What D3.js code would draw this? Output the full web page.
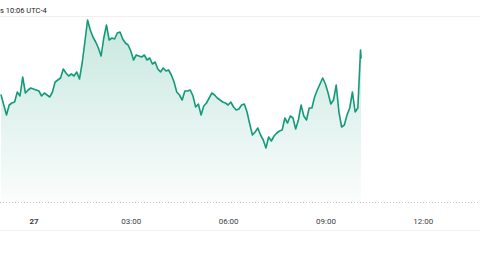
<!DOCTYPE html>
<html>
<head>
<meta charset="utf-8">
<script src="https://cdn.jsdelivr.net/npm/d3@7"></script>
<style>
  html, body { margin: 0; padding: 0; background: #fff; }
  svg { display: block; font-family: Roboto, "Open Sans", sans-serif; }
</style>
</head>
<body>
<svg id="chart" width="480" height="270"></svg>
<script>
// price every 5 minutes from 23:00 (previous day) to 10:05
const startTime = "2023-10-26 23:00";
const stepMinutes = 5;
const prices = [
  42.14, 41.94, 41.74, 41.94, 41.98, 42.00, 42.20, 42.12, 42.50, 42.18,
  42.24, 42.28, 42.26, 42.24, 42.22, 42.12, 42.18, 42.14, 42.10, 42.20,
  42.40, 42.44, 42.48, 42.66, 42.58, 42.52, 42.56, 42.52, 42.60, 42.46,
  42.78, 43.20, 43.64, 43.44, 43.30, 43.20, 43.08, 42.92, 43.28, 43.54,
  43.24, 43.28, 43.26, 43.38, 43.40, 43.26, 43.18, 43.14, 43.02, 42.84,
  42.94, 42.92, 42.90, 42.94, 42.84, 42.88, 42.76, 42.80, 42.66, 42.60,
  42.68, 42.62, 42.64, 42.54, 42.40, 42.20, 42.14, 42.04, 42.22, 42.22,
  42.24, 42.12, 41.90, 41.96, 41.74, 41.92, 41.98, 42.08, 42.18, 42.14,
  42.08, 42.04, 42.00, 41.98, 41.94, 42.00, 41.90, 41.84, 41.86, 41.94,
  41.96, 41.80, 41.56, 41.34, 41.40, 41.48, 41.34, 41.24, 41.08, 41.30,
  41.22, 41.32, 41.38, 41.42, 41.44, 41.68, 41.58, 41.72, 41.68, 41.46,
  41.64, 41.94, 41.72, 41.64, 41.88, 41.88, 42.10, 42.24, 42.36, 42.48,
  42.36, 42.18, 41.96, 42.04, 42.34, 41.80, 41.50, 41.54, 41.74, 41.88,
  42.20, 41.80, 41.88, 43.04
];
const lastTime = "2023-10-27 10:06";
const lastPrice = 42.88;

const viewStart = "2023-10-26 22:58";
const viewEnd = "2023-10-27 13:46";
const priceRange = [40, 43.7];

const tickTimes = ["2023-10-27 00:00", "2023-10-27 03:00", "2023-10-27 06:00", "2023-10-27 09:00", "2023-10-27 12:00"];
const tickLabels = ["27", "03:00", "06:00", "09:00", "12:00"];
const stampText = "s 10:06 UTC-4";

const parse = d3.timeParse("%Y-%m-%d %H:%M");
const t0 = parse(startTime);
var data = prices.map((p, i) => ({ t: d3.timeMinute.offset(t0, i * stepMinutes), v: p }));
data.push({ t: parse(lastTime), v: lastPrice });

var svg = d3.select("#chart");
var width = 480, plotTop = 17, plotBottom = 202;

var x = d3.scaleTime()
  .domain([parse(viewStart), parse(viewEnd)])
  .range([0, width]);

var y = d3.scaleLinear()
  .domain(priceRange)
  .range([plotBottom, plotTop]);

// header
svg.append("text")
  .attr("x", 0)
  .attr("y", 12.5)
  .style("font-size", "7.5px")
  .style("fill", "#202124")
  .text(stampText);

svg.append("line")
  .attr("x1", 0).attr("x2", width)
  .attr("y1", plotTop - 0.5).attr("y2", plotTop - 0.5)
  .attr("stroke", "#efefef");

// gradient for the area
var grad = svg.append("defs").append("linearGradient")
  .attr("id", "fillGrad")
  .attr("gradientUnits", "userSpaceOnUse")
  .attr("x1", 0).attr("x2", 0)
  .attr("y1", plotTop).attr("y2", plotBottom);
grad.append("stop").attr("offset", "0%").attr("stop-color", "#129a78").attr("stop-opacity", 0.24);
grad.append("stop").attr("offset", "100%").attr("stop-color", "#129a78").attr("stop-opacity", 0.02);

svg.append("path")
  .datum(data)
  .attr("fill", "url(#fillGrad)")
  .attr("d", d3.area()
    .x(d => x(d.t))
    .y0(plotBottom)
    .y1(d => y(d.v)));

// dotted baseline
svg.append("line")
  .attr("x1", 0).attr("x2", width)
  .attr("y1", plotBottom + 0.5).attr("y2", plotBottom + 0.5)
  .attr("stroke", "#c8c8c8")
  .attr("stroke-dasharray", "1,2");

svg.append("path")
  .datum(data)
  .attr("fill", "none")
  .attr("stroke", "#139a7a")
  .attr("stroke-width", 1.6)
  .attr("stroke-linejoin", "round")
  .attr("stroke-linecap", "round")
  .attr("d", d3.line()
    .x(d => x(d.t))
    .y(d => y(d.v)));

// time axis
var xAxis = svg.append("g")
  .attr("transform", "translate(0," + plotBottom + ")")
  .call(d3.axisBottom(x)
    .tickValues(tickTimes.map(parse))
    .tickSize(0)
    .tickPadding(16)
    .tickFormat((d, i) => tickLabels[i]));
xAxis.select(".domain").remove();
xAxis.selectAll("text")
  .style("font-size", "8px")
  .style("font-family", "Roboto, 'Open Sans', sans-serif")
  .style("fill", "#3c4043")
  .style("font-weight", (d, i) => i === 0 ? "700" : "400");

svg.append("line")
  .attr("x1", 0).attr("x2", width)
  .attr("y1", 230.5).attr("y2", 230.5)
  .attr("stroke", "#f1f1f1");
</script>
</body>
</html>
